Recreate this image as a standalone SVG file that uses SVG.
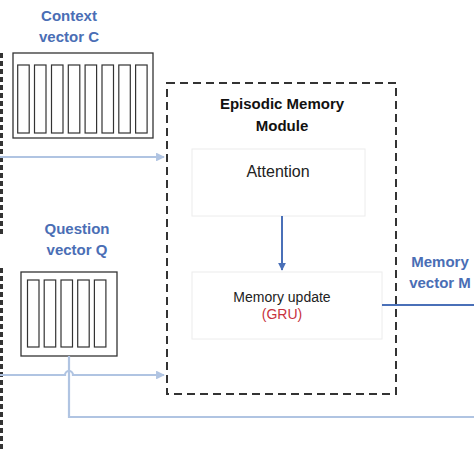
<svg xmlns="http://www.w3.org/2000/svg" width="474" height="474" viewBox="0 0 474 474">
<defs>
<style>
.lbl{font-family:"Liberation Sans",Arial,sans-serif;font-weight:bold;font-size:15px;fill:#4a6eb5;text-anchor:middle}
.ttl{font-family:"Liberation Sans",Arial,sans-serif;font-weight:bold;font-size:15px;fill:#111;text-anchor:middle}
.txt{font-family:"Liberation Sans",Arial,sans-serif;font-size:14px;fill:#222;text-anchor:middle}
.vec{fill:#fff;stroke:#333;stroke-width:1.3}
.bar{fill:#fff;stroke:#333;stroke-width:1.2}
.lite{fill:none;stroke:#b0c4e2;stroke-width:2.2}
.dark{fill:none;stroke:#4a70b8;stroke-width:2}
.inner{fill:#fff;stroke:#ececec;stroke-width:1}
</style>
<marker id="ahL" viewBox="0 0 10 10" refX="9" refY="5" markerWidth="4" markerHeight="4" orient="auto"><path d="M0,0L10,5L0,10z" fill="#b0c4e2"/></marker>
<marker id="ahD" viewBox="0 0 10 10" refX="9" refY="5" markerWidth="4" markerHeight="4" orient="auto"><path d="M0,0L10,5L0,10z" fill="#4a70b8"/></marker>
</defs>
<rect width="474" height="474" fill="#fff"/>
<g id="left-boundary">
<line x1="1.5" y1="53" x2="1.5" y2="236" stroke="#333" stroke-width="3" stroke-dasharray="5 3"/>
<line x1="1.5" y1="268" x2="1.5" y2="452" stroke="#333" stroke-width="3" stroke-dasharray="5 3"/>
</g>
<g id="episodic">
<rect x="167" y="83" width="229" height="311" fill="none" stroke="#333" stroke-width="2" stroke-dasharray="8 5"/>
<text class="ttl" x="282" y="109">Episodic Memory</text>
<text class="ttl" x="282" y="131">Module</text>
</g>
<g id="attention">
<rect class="inner" x="192" y="149" width="173" height="67"/>
<text class="txt" x="278" y="177" style="font-size:16px">Attention</text>
</g>
<g id="memupdate">
<rect class="inner" x="192" y="272" width="190" height="67"/>
<text class="txt" x="282" y="302">Memory update</text>
<text class="txt" x="282" y="319" style="fill:#c8323c">(GRU)</text>
</g>
<g id="context">
<text class="lbl" x="69" y="21">Context</text>
<text class="lbl" x="69" y="42">vector C</text>
<rect class="vec" x="13" y="53" width="140" height="85"/>
<rect class="bar" x="17.7" y="65" width="11.5" height="68"/>
<rect class="bar" x="34.5" y="65" width="11.5" height="68"/>
<rect class="bar" x="51.5" y="65" width="11.5" height="68"/>
<rect class="bar" x="68.3" y="65" width="11.5" height="68"/>
<rect class="bar" x="85.1" y="65" width="11.5" height="68"/>
<rect class="bar" x="102" y="65" width="11.5" height="68"/>
<rect class="bar" x="118.8" y="65" width="11.5" height="68"/>
<rect class="bar" x="135.6" y="65" width="11.5" height="68"/>
</g>
<g id="question">
<text class="lbl" x="77" y="234">Question</text>
<text class="lbl" x="77" y="255">vector Q</text>
<rect class="vec" x="21" y="272" width="96" height="84"/>
<rect class="bar" x="27.5" y="280" width="11.5" height="67"/>
<rect class="bar" x="44.2" y="280" width="11.5" height="67"/>
<rect class="bar" x="61" y="280" width="11.5" height="67"/>
<rect class="bar" x="77.7" y="280" width="11.5" height="67"/>
<rect class="bar" x="94.4" y="280" width="11.5" height="67"/>
</g>
<g id="memvec">
<text class="lbl" x="440" y="267">Memory</text>
<text class="lbl" x="440" y="288">vector M</text>
</g>
<g id="connectors">
<line class="lite" x1="0" y1="157" x2="164" y2="157" marker-end="url(#ahL)"/>
<path class="lite" d="M0,375 H65 A4,4 0 0 1 73,375 H164" marker-end="url(#ahL)"/>
<path class="lite" d="M69,356 V417 H474"/>
<line class="dark" x1="282" y1="216" x2="282" y2="270" marker-end="url(#ahD)"/>
<line class="dark" x1="382" y1="305" x2="474" y2="305"/>
</g>
</svg>
